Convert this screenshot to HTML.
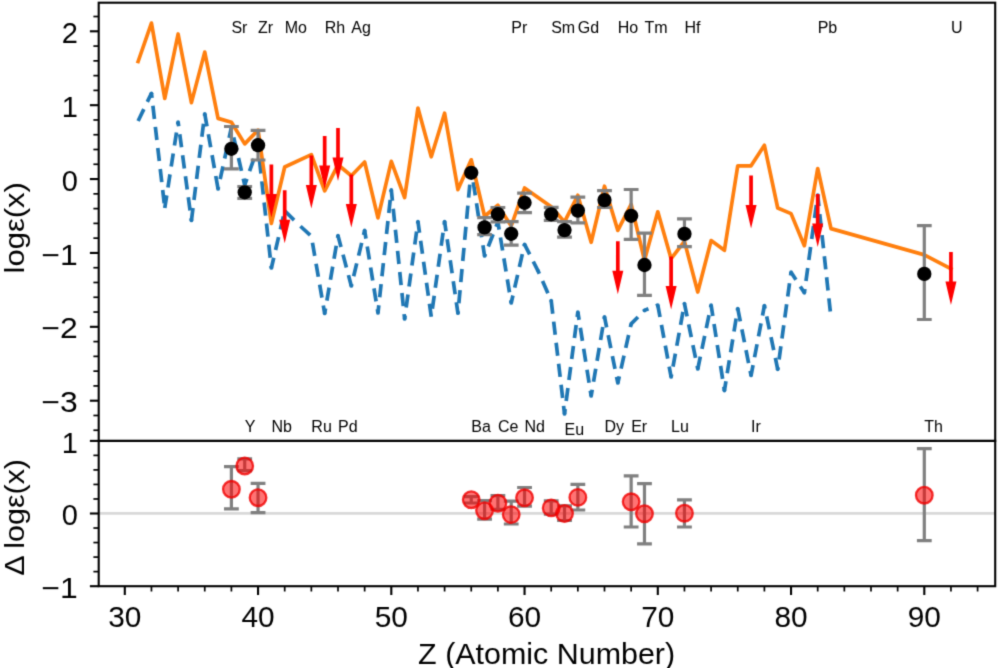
<!DOCTYPE html><html><head><meta charset="utf-8"><title>Abundance pattern</title>
<style>html,body{margin:0;padding:0;background:#fff;}svg{display:block;}text{font-family:"Liberation Sans",sans-serif;fill:#000;}</style></head><body>
<svg width="998" height="668" viewBox="0 0 998 668">
<filter id="bl" x="0" y="0" width="998" height="668" filterUnits="userSpaceOnUse" color-interpolation-filters="sRGB"><feConvolveMatrix order="3" kernelMatrix="0.0225 0.1050 0.0225 0.1050 0.4900 0.1050 0.0225 0.1050 0.0225" edgeMode="duplicate"/></filter>
<g filter="url(#bl)">
<rect width="998" height="668" fill="#fff"/>
<defs><clipPath id="ct"><rect x="98.0" y="2.7" width="897.2" height="438.2"/></clipPath><clipPath id="cb"><rect x="98.0" y="440.9" width="897.2" height="145.30000000000007"/></clipPath></defs>
<g clip-path="url(#ct)">
<g stroke="#1f77b4" stroke-width="3.7" stroke-dasharray="13.2 8.0" fill="none"><line x1="138.12" y1="121" x2="151.45" y2="93.3" stroke-dashoffset="0"/><circle cx="151.45" cy="93.3" r="1.85" fill="#1f77b4" stroke="none"/><line x1="151.45" y1="93.3" x2="164.77" y2="208" stroke-dashoffset="8.6"/><line x1="164.77" y1="208" x2="178.1" y2="122.1" stroke-dashoffset="0.4"/><circle cx="178.1" cy="122.1" r="1.85" fill="#1f77b4" stroke="none"/><line x1="178.1" y1="122.1" x2="191.43" y2="220.4" stroke-dashoffset="8.9"/><circle cx="191.43" cy="220.4" r="1.85" fill="#1f77b4" stroke="none"/><line x1="191.43" y1="220.4" x2="204.75" y2="113.8" stroke-dashoffset="0.6"/><circle cx="204.75" cy="113.8" r="1.85" fill="#1f77b4" stroke="none"/><line x1="204.75" y1="113.8" x2="218.07" y2="189" stroke-dashoffset="0.4"/><circle cx="218.07" cy="189" r="1.85" fill="#1f77b4" stroke="none"/><line x1="218.07" y1="189" x2="231.4" y2="127.3" stroke-dashoffset="11.2"/><circle cx="231.4" cy="127.3" r="1.85" fill="#1f77b4" stroke="none"/><line x1="231.4" y1="127.3" x2="244.72" y2="185" stroke-dashoffset="10.9"/><circle cx="244.72" cy="185" r="1.85" fill="#1f77b4" stroke="none"/><line x1="244.72" y1="185" x2="258.05" y2="147" stroke-dashoffset="6.6"/><circle cx="258.05" cy="147" r="1.85" fill="#1f77b4" stroke="none"/><line x1="258.05" y1="147" x2="271.38" y2="268" stroke-dashoffset="7.8"/><circle cx="271.38" cy="268" r="1.85" fill="#1f77b4" stroke="none"/><line x1="271.38" y1="268" x2="284.7" y2="210.8" stroke-dashoffset="2.7"/><line x1="284.7" y1="210.8" x2="298.02" y2="224" stroke-dashoffset="0"/><line x1="298.02" y1="224" x2="311.35" y2="236.3" stroke-dashoffset="17.9"/><line x1="311.35" y1="236.3" x2="324.68" y2="313.5" stroke-dashoffset="14.6"/><circle cx="324.68" cy="313.5" r="1.85" fill="#1f77b4" stroke="none"/><line x1="324.68" y1="313.5" x2="338" y2="235.6" stroke-dashoffset="8.1"/><circle cx="338" cy="235.6" r="1.85" fill="#1f77b4" stroke="none"/><line x1="338" y1="235.6" x2="351.32" y2="286" stroke-dashoffset="1.5"/><circle cx="351.32" cy="286" r="1.85" fill="#1f77b4" stroke="none"/><line x1="351.32" y1="286" x2="364.65" y2="230.4" stroke-dashoffset="11.2"/><circle cx="364.65" cy="230.4" r="1.85" fill="#1f77b4" stroke="none"/><line x1="364.65" y1="230.4" x2="377.97" y2="313" stroke-dashoffset="4.9"/><circle cx="377.97" cy="313" r="1.85" fill="#1f77b4" stroke="none"/><line x1="377.97" y1="313" x2="391.3" y2="189.9" stroke-dashoffset="5.4"/><circle cx="391.3" cy="189.9" r="1.85" fill="#1f77b4" stroke="none"/><line x1="391.3" y1="189.9" x2="404.62" y2="319" stroke-dashoffset="2.3"/><circle cx="404.62" cy="319" r="1.85" fill="#1f77b4" stroke="none"/><line x1="404.62" y1="319" x2="417.95" y2="221.6" stroke-dashoffset="9.7"/><circle cx="417.95" cy="221.6" r="1.85" fill="#1f77b4" stroke="none"/><line x1="417.95" y1="221.6" x2="431.27" y2="316.7" stroke-dashoffset="1.9"/><line x1="431.27" y1="316.7" x2="444.6" y2="221.6" stroke-dashoffset="13.2"/><circle cx="444.6" cy="221.6" r="1.85" fill="#1f77b4" stroke="none"/><line x1="444.6" y1="221.6" x2="457.93" y2="313.2" stroke-dashoffset="3.4"/><circle cx="457.93" cy="313.2" r="1.85" fill="#1f77b4" stroke="none"/><line x1="457.93" y1="313.2" x2="471.25" y2="169" stroke-dashoffset="11.2"/><circle cx="471.25" cy="169" r="1.85" fill="#1f77b4" stroke="none"/><line x1="471.25" y1="169" x2="484.57" y2="256" stroke-dashoffset="7.7"/><circle cx="484.57" cy="256" r="1.85" fill="#1f77b4" stroke="none"/><line x1="484.57" y1="256" x2="497.9" y2="221.9" stroke-dashoffset="11"/><circle cx="497.9" cy="221.9" r="1.85" fill="#1f77b4" stroke="none"/><line x1="497.9" y1="221.9" x2="511.22" y2="303" stroke-dashoffset="5.4"/><circle cx="511.22" cy="303" r="1.85" fill="#1f77b4" stroke="none"/><line x1="511.22" y1="303" x2="524.55" y2="244.3" stroke-dashoffset="5.5"/><circle cx="524.55" cy="244.3" r="1.85" fill="#1f77b4" stroke="none"/><line x1="524.55" y1="244.3" x2="537.88" y2="270.6" stroke-dashoffset="1.9"/><circle cx="537.88" cy="270.6" r="1.85" fill="#1f77b4" stroke="none"/><line x1="537.88" y1="270.6" x2="551.2" y2="300.6" stroke-dashoffset="9.7"/><circle cx="551.2" cy="300.6" r="1.85" fill="#1f77b4" stroke="none"/><line x1="551.2" y1="300.6" x2="564.52" y2="414" stroke-dashoffset="0"/><circle cx="564.52" cy="414" r="1.85" fill="#1f77b4" stroke="none"/><line x1="564.52" y1="414" x2="577.85" y2="312" stroke-dashoffset="8.2"/><circle cx="577.85" cy="312" r="1.85" fill="#1f77b4" stroke="none"/><line x1="577.85" y1="312" x2="591.17" y2="395.9" stroke-dashoffset="5.2"/><circle cx="591.17" cy="395.9" r="1.85" fill="#1f77b4" stroke="none"/><line x1="591.17" y1="395.9" x2="604.5" y2="316.8" stroke-dashoffset="6.9"/><circle cx="604.5" cy="316.8" r="1.85" fill="#1f77b4" stroke="none"/><line x1="604.5" y1="316.8" x2="617.82" y2="383" stroke-dashoffset="2.4"/><circle cx="617.82" cy="383" r="1.85" fill="#1f77b4" stroke="none"/><line x1="617.82" y1="383" x2="631.15" y2="323.9" stroke-dashoffset="6.4"/><circle cx="631.15" cy="323.9" r="1.85" fill="#1f77b4" stroke="none"/><line x1="631.15" y1="323.9" x2="644.47" y2="310.4" stroke-dashoffset="3.5"/><circle cx="644.47" cy="310.4" r="1.85" fill="#1f77b4" stroke="none"/><line x1="644.47" y1="310.4" x2="657.8" y2="305.1" stroke-dashoffset="8.9"/><circle cx="657.8" cy="305.1" r="1.85" fill="#1f77b4" stroke="none"/><line x1="657.8" y1="305.1" x2="671.12" y2="377" stroke-dashoffset="1.1"/><circle cx="671.12" cy="377" r="1.85" fill="#1f77b4" stroke="none"/><line x1="671.12" y1="377" x2="684.45" y2="303.6" stroke-dashoffset="10.6"/><circle cx="684.45" cy="303.6" r="1.85" fill="#1f77b4" stroke="none"/><line x1="684.45" y1="303.6" x2="697.77" y2="369" stroke-dashoffset="0.1"/><circle cx="697.77" cy="369" r="1.85" fill="#1f77b4" stroke="none"/><line x1="697.77" y1="369" x2="711.1" y2="305.1" stroke-dashoffset="0.6"/><circle cx="711.1" cy="305.1" r="1.85" fill="#1f77b4" stroke="none"/><line x1="711.1" y1="305.1" x2="724.42" y2="390.6" stroke-dashoffset="2.1"/><circle cx="724.42" cy="390.6" r="1.85" fill="#1f77b4" stroke="none"/><line x1="724.42" y1="390.6" x2="737.75" y2="308.5" stroke-dashoffset="3.7"/><circle cx="737.75" cy="308.5" r="1.85" fill="#1f77b4" stroke="none"/><line x1="737.75" y1="308.5" x2="751.07" y2="375.5" stroke-dashoffset="0"/><circle cx="751.07" cy="375.5" r="1.85" fill="#1f77b4" stroke="none"/><line x1="751.07" y1="375.5" x2="764.4" y2="305.6" stroke-dashoffset="2.6"/><circle cx="764.4" cy="305.6" r="1.85" fill="#1f77b4" stroke="none"/><line x1="764.4" y1="305.6" x2="777.72" y2="369.3" stroke-dashoffset="10.1"/><circle cx="777.72" cy="369.3" r="1.85" fill="#1f77b4" stroke="none"/><line x1="777.72" y1="369.3" x2="791.05" y2="272.2" stroke-dashoffset="11.2"/><circle cx="791.05" cy="272.2" r="1.85" fill="#1f77b4" stroke="none"/><line x1="791.05" y1="272.2" x2="804.37" y2="292.8" stroke-dashoffset="4.2"/><circle cx="804.37" cy="292.8" r="1.85" fill="#1f77b4" stroke="none"/><line x1="804.37" y1="292.8" x2="817.7" y2="195" stroke-dashoffset="9.3"/><circle cx="817.7" cy="195" r="1.85" fill="#1f77b4" stroke="none"/><line x1="817.7" y1="195" x2="831.02" y2="318" stroke-dashoffset="2"/></g>
<polyline points="138.12,61.5 151.45,23.1 164.77,98.4 178.1,34 191.43,102.6 204.75,52.1 218.07,118.4 231.4,122.3 244.72,143.9 258.05,130.1 271.38,223.4 284.7,167 311.35,154.6 324.68,190.8 338,164.8 351.32,175.8 364.65,162 377.97,217.9 391.3,161.4 404.62,197.5 417.95,108 431.27,156.8 444.6,113.2 457.93,189.6 471.25,159.8 484.57,216.2 497.9,205.3 511.22,226 524.55,188 551.2,206.8 564.52,221.9 577.85,195.3 591.17,242.3 604.5,186.2 617.82,230.4 631.15,204.3 644.47,260.2 657.8,211.8 671.12,258.7 684.45,241.4 697.77,292 711.1,240.6 724.42,250.3 737.75,165.8 751.07,165.8 764.4,145.3 777.72,208 791.05,213.6 804.37,245.7 817.7,168.5 831.02,228.6 924.3,254.9 950.95,268.8" fill="none" stroke="#ff7f0e" stroke-width="3.7" stroke-linejoin="round" stroke-linecap="square"/>
<path d="M231.4 126.5V168.8M224 126.5H238.8M224 168.8H238.8" stroke="#808080" stroke-width="3.2" fill="none"/>
<path d="M244.72 186.7V198.4M237.32 186.7H252.12M237.32 198.4H252.12" stroke="#808080" stroke-width="3.2" fill="none"/>
<path d="M258.05 130.3V160M250.65 130.3H265.45M250.65 160H265.45" stroke="#808080" stroke-width="3.2" fill="none"/>
<path d="M484.57 217.7V234.7M477.18 217.7H491.97M477.18 234.7H491.97" stroke="#808080" stroke-width="3.2" fill="none"/>
<path d="M497.9 207.5V221.8M490.5 207.5H505.3M490.5 221.8H505.3" stroke="#808080" stroke-width="3.2" fill="none"/>
<path d="M511.22 221.6V245.1M503.82 221.6H518.62M503.82 245.1H518.62" stroke="#808080" stroke-width="3.2" fill="none"/>
<path d="M524.55 193.2V212.6M517.15 193.2H531.95M517.15 212.6H531.95" stroke="#808080" stroke-width="3.2" fill="none"/>
<path d="M551.2 207.3V220.4M543.8 207.3H558.6M543.8 220.4H558.6" stroke="#808080" stroke-width="3.2" fill="none"/>
<path d="M564.52 221.6V237.2M557.12 221.6H571.92M557.12 237.2H571.92" stroke="#808080" stroke-width="3.2" fill="none"/>
<path d="M577.85 197.1V222.9M570.45 197.1H585.25M570.45 222.9H585.25" stroke="#808080" stroke-width="3.2" fill="none"/>
<path d="M604.5 190.6V207.5M597.1 190.6H611.9M597.1 207.5H611.9" stroke="#808080" stroke-width="3.2" fill="none"/>
<path d="M631.15 189.5V239.4M623.75 189.5H638.55M623.75 239.4H638.55" stroke="#808080" stroke-width="3.2" fill="none"/>
<path d="M644.47 233.1V295.3M637.07 233.1H651.87M637.07 295.3H651.87" stroke="#808080" stroke-width="3.2" fill="none"/>
<path d="M684.45 218.9V246.7M677.05 218.9H691.85M677.05 246.7H691.85" stroke="#808080" stroke-width="3.2" fill="none"/>
<path d="M924.3 225.7V319.5M916.9 225.7H931.7M916.9 319.5H931.7" stroke="#808080" stroke-width="3.2" fill="none"/>
<circle cx="471.25" cy="172.8" r="7.15" fill="#000"/>
<circle cx="231.4" cy="148.8" r="7.15" fill="#000"/>
<circle cx="244.72" cy="192.3" r="7.15" fill="#000"/>
<circle cx="258.05" cy="145.2" r="7.15" fill="#000"/>
<circle cx="484.57" cy="227.4" r="7.15" fill="#000"/>
<circle cx="497.9" cy="214.2" r="7.15" fill="#000"/>
<circle cx="511.22" cy="233.8" r="7.15" fill="#000"/>
<circle cx="524.55" cy="202.8" r="7.15" fill="#000"/>
<circle cx="551.2" cy="214.3" r="7.15" fill="#000"/>
<circle cx="564.52" cy="230.1" r="7.15" fill="#000"/>
<circle cx="577.85" cy="210.6" r="7.15" fill="#000"/>
<circle cx="604.5" cy="200.1" r="7.15" fill="#000"/>
<circle cx="631.15" cy="215.8" r="7.15" fill="#000"/>
<circle cx="644.47" cy="265" r="7.15" fill="#000"/>
<circle cx="684.45" cy="233.9" r="7.15" fill="#000"/>
<circle cx="924.3" cy="273.9" r="7.15" fill="#000"/>
<path d="M269.52 164.6H273.23V194.1H276.88L271.38 217.6L265.88 194.1H269.52Z" fill="#ff0000"/>
<path d="M282.85 190.2H286.55V219.7H290.2L284.7 243.2L279.2 219.7H282.85Z" fill="#ff0000"/>
<path d="M309.5 155.4H313.2V184.9H316.85L311.35 208.4L305.85 184.9H309.5Z" fill="#ff0000"/>
<path d="M322.82 136.1H326.53V165.6H330.18L324.68 189.1L319.18 165.6H322.82Z" fill="#ff0000"/>
<path d="M336.15 128H339.85V157.5H343.5L338 181L332.5 157.5H336.15Z" fill="#ff0000"/>
<path d="M349.47 174.6H353.18V204.1H356.82L351.32 227.6L345.82 204.1H349.47Z" fill="#ff0000"/>
<path d="M615.97 241.3H619.67V270.8H623.32L617.82 294.3L612.32 270.8H615.97Z" fill="#ff0000"/>
<path d="M669.27 256.4H672.97V285.9H676.62L671.12 309.4L665.62 285.9H669.27Z" fill="#ff0000"/>
<path d="M749.22 175.6H752.92V205.1H756.57L751.07 228.6L745.57 205.1H749.22Z" fill="#ff0000"/>
<path d="M815.85 194H819.55V223.5H823.2L817.7 247L812.2 223.5H815.85Z" fill="#ff0000"/>
<path d="M949.1 251.9H952.8V281.4H956.45L950.95 304.9L945.45 281.4H949.1Z" fill="#ff0000"/>
</g>
<text x="231.4" y="33.0" font-size="16">Sr</text>
<text x="258.05" y="33.0" font-size="16">Zr</text>
<text x="284.7" y="33.0" font-size="16">Mo</text>
<text x="324.68" y="33.0" font-size="16">Rh</text>
<text x="351.32" y="33.0" font-size="16">Ag</text>
<text x="511.22" y="33.0" font-size="16">Pr</text>
<text x="551.2" y="33.0" font-size="16">Sm</text>
<text x="577.85" y="33.0" font-size="16">Gd</text>
<text x="617.82" y="33.0" font-size="16">Ho</text>
<text x="644.47" y="33.0" font-size="16">Tm</text>
<text x="684.45" y="33.0" font-size="16">Hf</text>
<text x="817.7" y="33.0" font-size="16">Pb</text>
<text x="950.95" y="33.0" font-size="16">U</text>
<text x="244.72" y="432.1" font-size="16">Y</text>
<text x="271.38" y="432.1" font-size="16">Nb</text>
<text x="311.35" y="432.1" font-size="16">Ru</text>
<text x="338" y="432.1" font-size="16">Pd</text>
<text x="471.25" y="432.1" font-size="16">Ba</text>
<text x="497.9" y="432.1" font-size="16">Ce</text>
<text x="524.55" y="432.1" font-size="16">Nd</text>
<text x="564.52" y="435.0" font-size="16">Eu</text>
<text x="604.5" y="432.1" font-size="16">Dy</text>
<text x="631.15" y="432.1" font-size="16">Er</text>
<text x="671.12" y="432.1" font-size="16">Lu</text>
<text x="751.07" y="432.1" font-size="16">Ir</text>
<text x="924.3" y="432.1" font-size="16">Th</text>
<g clip-path="url(#cb)">
<line x1="98.70357453000375" y1="513.4" x2="995.2" y2="513.4" stroke="#d9d9d9" stroke-width="2.8"/>
<path d="M231.4 466.6V508.8M224 466.6H238.8M224 508.8H238.8" stroke="#808080" stroke-width="3.2" fill="none"/>
<path d="M244.72 458.8V470.7M237.32 458.8H252.12M237.32 470.7H252.12" stroke="#808080" stroke-width="3.2" fill="none"/>
<path d="M258.05 483.3V512.7M250.65 483.3H265.45M250.65 512.7H265.45" stroke="#808080" stroke-width="3.2" fill="none"/>
<path d="M471.25 496.7V503M463.85 496.7H478.65M463.85 503H478.65" stroke="#808080" stroke-width="3.2" fill="none"/>
<path d="M484.57 500.6V519.1M477.18 500.6H491.97M477.18 519.1H491.97" stroke="#808080" stroke-width="3.2" fill="none"/>
<path d="M497.9 495.7V509.3M490.5 495.7H505.3M490.5 509.3H505.3" stroke="#808080" stroke-width="3.2" fill="none"/>
<path d="M511.22 501.1V524M503.82 501.1H518.62M503.82 524H518.62" stroke="#808080" stroke-width="3.2" fill="none"/>
<path d="M524.55 487.5V506.2M517.15 487.5H531.95M517.15 506.2H531.95" stroke="#808080" stroke-width="3.2" fill="none"/>
<path d="M551.2 500.9V514.2M543.8 500.9H558.6M543.8 514.2H558.6" stroke="#808080" stroke-width="3.2" fill="none"/>
<path d="M564.52 505.8V520.5M557.12 505.8H571.92M557.12 520.5H571.92" stroke="#808080" stroke-width="3.2" fill="none"/>
<path d="M577.85 484.4V510M570.45 484.4H585.25M570.45 510H585.25" stroke="#808080" stroke-width="3.2" fill="none"/>
<path d="M631.15 475.9V527M623.75 475.9H638.55M623.75 527H638.55" stroke="#808080" stroke-width="3.2" fill="none"/>
<path d="M644.47 483.6V543.8M637.07 483.6H651.87M637.07 543.8H651.87" stroke="#808080" stroke-width="3.2" fill="none"/>
<path d="M684.45 499.8V527M677.05 499.8H691.85M677.05 527H691.85" stroke="#808080" stroke-width="3.2" fill="none"/>
<path d="M924.3 448.6V540.7M916.9 448.6H931.7M916.9 540.7H931.7" stroke="#808080" stroke-width="3.2" fill="none"/>
<circle cx="231.4" cy="489.3" r="8.3" fill="#ff0000" fill-opacity="0.55" stroke="#f00000" stroke-opacity="0.8" stroke-width="2.3"/>
<circle cx="244.72" cy="466" r="8.3" fill="#ff0000" fill-opacity="0.55" stroke="#f00000" stroke-opacity="0.8" stroke-width="2.3"/>
<circle cx="258.05" cy="497.7" r="8.3" fill="#ff0000" fill-opacity="0.55" stroke="#f00000" stroke-opacity="0.8" stroke-width="2.3"/>
<circle cx="471.25" cy="499.7" r="8.3" fill="#ff0000" fill-opacity="0.55" stroke="#f00000" stroke-opacity="0.8" stroke-width="2.3"/>
<circle cx="484.57" cy="510.7" r="8.3" fill="#ff0000" fill-opacity="0.55" stroke="#f00000" stroke-opacity="0.8" stroke-width="2.3"/>
<circle cx="497.9" cy="503.2" r="8.3" fill="#ff0000" fill-opacity="0.55" stroke="#f00000" stroke-opacity="0.8" stroke-width="2.3"/>
<circle cx="511.22" cy="514.6" r="8.3" fill="#ff0000" fill-opacity="0.55" stroke="#f00000" stroke-opacity="0.8" stroke-width="2.3"/>
<circle cx="524.55" cy="497.8" r="8.3" fill="#ff0000" fill-opacity="0.55" stroke="#f00000" stroke-opacity="0.8" stroke-width="2.3"/>
<circle cx="551.2" cy="507.9" r="8.3" fill="#ff0000" fill-opacity="0.55" stroke="#f00000" stroke-opacity="0.8" stroke-width="2.3"/>
<circle cx="564.52" cy="513.5" r="8.3" fill="#ff0000" fill-opacity="0.55" stroke="#f00000" stroke-opacity="0.8" stroke-width="2.3"/>
<circle cx="577.85" cy="497.4" r="8.3" fill="#ff0000" fill-opacity="0.55" stroke="#f00000" stroke-opacity="0.8" stroke-width="2.3"/>
<circle cx="631.15" cy="501.8" r="8.3" fill="#ff0000" fill-opacity="0.55" stroke="#f00000" stroke-opacity="0.8" stroke-width="2.3"/>
<circle cx="644.47" cy="513.7" r="8.3" fill="#ff0000" fill-opacity="0.55" stroke="#f00000" stroke-opacity="0.8" stroke-width="2.3"/>
<circle cx="684.45" cy="513.2" r="8.3" fill="#ff0000" fill-opacity="0.55" stroke="#f00000" stroke-opacity="0.8" stroke-width="2.3"/>
<circle cx="924.3" cy="495.2" r="8.3" fill="#ff0000" fill-opacity="0.55" stroke="#f00000" stroke-opacity="0.8" stroke-width="2.3"/>
</g>
<rect x="98.70357453000375" y="2.7" width="896.5" height="438.2" fill="none" stroke="#000" stroke-width="2.1"/>
<rect x="98.70357453000375" y="440.9" width="896.5" height="145.3" fill="none" stroke="#000" stroke-width="2.1"/>
<line x1="93.4" y1="430.25" x2="98.70357453000375" y2="430.25" stroke="#000" stroke-width="1.7"/><line x1="93.4" y1="415.48" x2="98.70357453000375" y2="415.48" stroke="#000" stroke-width="1.7"/><line x1="89.9" y1="400.7" x2="98.70357453000375" y2="400.7" stroke="#000" stroke-width="2.1"/><line x1="93.4" y1="385.92" x2="98.70357453000375" y2="385.92" stroke="#000" stroke-width="1.7"/><line x1="93.4" y1="371.15" x2="98.70357453000375" y2="371.15" stroke="#000" stroke-width="1.7"/><line x1="93.4" y1="356.37" x2="98.70357453000375" y2="356.37" stroke="#000" stroke-width="1.7"/><line x1="93.4" y1="341.6" x2="98.70357453000375" y2="341.6" stroke="#000" stroke-width="1.7"/><line x1="89.9" y1="326.82" x2="98.70357453000375" y2="326.82" stroke="#000" stroke-width="2.1"/><line x1="93.4" y1="312.04" x2="98.70357453000375" y2="312.04" stroke="#000" stroke-width="1.7"/><line x1="93.4" y1="297.27" x2="98.70357453000375" y2="297.27" stroke="#000" stroke-width="1.7"/><line x1="93.4" y1="282.49" x2="98.70357453000375" y2="282.49" stroke="#000" stroke-width="1.7"/><line x1="93.4" y1="267.72" x2="98.70357453000375" y2="267.72" stroke="#000" stroke-width="1.7"/><line x1="89.9" y1="252.94" x2="98.70357453000375" y2="252.94" stroke="#000" stroke-width="2.1"/><line x1="93.4" y1="238.16" x2="98.70357453000375" y2="238.16" stroke="#000" stroke-width="1.7"/><line x1="93.4" y1="223.39" x2="98.70357453000375" y2="223.39" stroke="#000" stroke-width="1.7"/><line x1="93.4" y1="208.61" x2="98.70357453000375" y2="208.61" stroke="#000" stroke-width="1.7"/><line x1="93.4" y1="193.84" x2="98.70357453000375" y2="193.84" stroke="#000" stroke-width="1.7"/><line x1="89.9" y1="179.06" x2="98.70357453000375" y2="179.06" stroke="#000" stroke-width="2.1"/><line x1="93.4" y1="164.28" x2="98.70357453000375" y2="164.28" stroke="#000" stroke-width="1.7"/><line x1="93.4" y1="149.51" x2="98.70357453000375" y2="149.51" stroke="#000" stroke-width="1.7"/><line x1="93.4" y1="134.73" x2="98.70357453000375" y2="134.73" stroke="#000" stroke-width="1.7"/><line x1="93.4" y1="119.96" x2="98.70357453000375" y2="119.96" stroke="#000" stroke-width="1.7"/><line x1="89.9" y1="105.18" x2="98.70357453000375" y2="105.18" stroke="#000" stroke-width="2.1"/><line x1="93.4" y1="90.4" x2="98.70357453000375" y2="90.4" stroke="#000" stroke-width="1.7"/><line x1="93.4" y1="75.63" x2="98.70357453000375" y2="75.63" stroke="#000" stroke-width="1.7"/><line x1="93.4" y1="60.85" x2="98.70357453000375" y2="60.85" stroke="#000" stroke-width="1.7"/><line x1="93.4" y1="46.08" x2="98.70357453000375" y2="46.08" stroke="#000" stroke-width="1.7"/><line x1="89.9" y1="31.3" x2="98.70357453000375" y2="31.3" stroke="#000" stroke-width="2.1"/><line x1="93.4" y1="16.52" x2="98.70357453000375" y2="16.52" stroke="#000" stroke-width="1.7"/><line x1="89.9" y1="586.2" x2="98.70357453000375" y2="586.2" stroke="#000" stroke-width="2.1"/><line x1="93.4" y1="571.62" x2="98.70357453000375" y2="571.62" stroke="#000" stroke-width="1.7"/><line x1="93.4" y1="557.09" x2="98.70357453000375" y2="557.09" stroke="#000" stroke-width="1.7"/><line x1="93.4" y1="542.56" x2="98.70357453000375" y2="542.56" stroke="#000" stroke-width="1.7"/><line x1="93.4" y1="528.03" x2="98.70357453000375" y2="528.03" stroke="#000" stroke-width="1.7"/><line x1="89.9" y1="513.5" x2="98.70357453000375" y2="513.5" stroke="#000" stroke-width="2.1"/><line x1="93.4" y1="498.97" x2="98.70357453000375" y2="498.97" stroke="#000" stroke-width="1.7"/><line x1="93.4" y1="484.44" x2="98.70357453000375" y2="484.44" stroke="#000" stroke-width="1.7"/><line x1="93.4" y1="469.91" x2="98.70357453000375" y2="469.91" stroke="#000" stroke-width="1.7"/><line x1="93.4" y1="455.38" x2="98.70357453000375" y2="455.38" stroke="#000" stroke-width="1.7"/><line x1="89.9" y1="440.9" x2="98.70357453000375" y2="440.9" stroke="#000" stroke-width="2.1"/><line x1="124.8" y1="586.2" x2="124.8" y2="595" stroke="#000" stroke-width="2.1"/><line x1="151.45" y1="586.2" x2="151.45" y2="591.5" stroke="#000" stroke-width="1.7"/><line x1="178.1" y1="586.2" x2="178.1" y2="591.5" stroke="#000" stroke-width="1.7"/><line x1="204.75" y1="586.2" x2="204.75" y2="591.5" stroke="#000" stroke-width="1.7"/><line x1="231.4" y1="586.2" x2="231.4" y2="591.5" stroke="#000" stroke-width="1.7"/><line x1="258.05" y1="586.2" x2="258.05" y2="595" stroke="#000" stroke-width="2.1"/><line x1="284.7" y1="586.2" x2="284.7" y2="591.5" stroke="#000" stroke-width="1.7"/><line x1="311.35" y1="586.2" x2="311.35" y2="591.5" stroke="#000" stroke-width="1.7"/><line x1="338" y1="586.2" x2="338" y2="591.5" stroke="#000" stroke-width="1.7"/><line x1="364.65" y1="586.2" x2="364.65" y2="591.5" stroke="#000" stroke-width="1.7"/><line x1="391.3" y1="586.2" x2="391.3" y2="595" stroke="#000" stroke-width="2.1"/><line x1="417.95" y1="586.2" x2="417.95" y2="591.5" stroke="#000" stroke-width="1.7"/><line x1="444.6" y1="586.2" x2="444.6" y2="591.5" stroke="#000" stroke-width="1.7"/><line x1="471.25" y1="586.2" x2="471.25" y2="591.5" stroke="#000" stroke-width="1.7"/><line x1="497.9" y1="586.2" x2="497.9" y2="591.5" stroke="#000" stroke-width="1.7"/><line x1="524.55" y1="586.2" x2="524.55" y2="595" stroke="#000" stroke-width="2.1"/><line x1="551.2" y1="586.2" x2="551.2" y2="591.5" stroke="#000" stroke-width="1.7"/><line x1="577.85" y1="586.2" x2="577.85" y2="591.5" stroke="#000" stroke-width="1.7"/><line x1="604.5" y1="586.2" x2="604.5" y2="591.5" stroke="#000" stroke-width="1.7"/><line x1="631.15" y1="586.2" x2="631.15" y2="591.5" stroke="#000" stroke-width="1.7"/><line x1="657.8" y1="586.2" x2="657.8" y2="595" stroke="#000" stroke-width="2.1"/><line x1="684.45" y1="586.2" x2="684.45" y2="591.5" stroke="#000" stroke-width="1.7"/><line x1="711.1" y1="586.2" x2="711.1" y2="591.5" stroke="#000" stroke-width="1.7"/><line x1="737.75" y1="586.2" x2="737.75" y2="591.5" stroke="#000" stroke-width="1.7"/><line x1="764.4" y1="586.2" x2="764.4" y2="591.5" stroke="#000" stroke-width="1.7"/><line x1="791.05" y1="586.2" x2="791.05" y2="595" stroke="#000" stroke-width="2.1"/><line x1="817.7" y1="586.2" x2="817.7" y2="591.5" stroke="#000" stroke-width="1.7"/><line x1="844.35" y1="586.2" x2="844.35" y2="591.5" stroke="#000" stroke-width="1.7"/><line x1="871" y1="586.2" x2="871" y2="591.5" stroke="#000" stroke-width="1.7"/><line x1="897.65" y1="586.2" x2="897.65" y2="591.5" stroke="#000" stroke-width="1.7"/><line x1="924.3" y1="586.2" x2="924.3" y2="595" stroke="#000" stroke-width="2.1"/><line x1="950.95" y1="586.2" x2="950.95" y2="591.5" stroke="#000" stroke-width="1.7"/><line x1="977.6" y1="586.2" x2="977.6" y2="591.5" stroke="#000" stroke-width="1.7"/>
<text x="77.8" y="42.9" font-size="29" text-anchor="end">2</text>
<text x="77.8" y="116.78" font-size="29" text-anchor="end">1</text>
<text x="77.8" y="190.66" font-size="29" text-anchor="end">0</text>
<text transform="translate(77.8 264.54) scale(1.1 1)" font-size="29" text-anchor="end">−1</text>
<text transform="translate(77.8 338.42) scale(1.1 1)" font-size="29" text-anchor="end">−2</text>
<text transform="translate(77.8 412.3) scale(1.1 1)" font-size="29" text-anchor="end">−3</text>
<text x="77.8" y="452.5" font-size="29" text-anchor="end">1</text>
<text x="77.8" y="525.1" font-size="29" text-anchor="end">0</text>
<text transform="translate(77.8 597.8) scale(1.1 1)" font-size="29" text-anchor="end">−1</text>
<text transform="translate(124.8 627.0) scale(1.03 1)" font-size="29" text-anchor="middle">30</text>
<text transform="translate(258.05 627.0) scale(1.03 1)" font-size="29" text-anchor="middle">40</text>
<text transform="translate(391.3 627.0) scale(1.03 1)" font-size="29" text-anchor="middle">50</text>
<text transform="translate(524.55 627.0) scale(1.03 1)" font-size="29" text-anchor="middle">60</text>
<text transform="translate(657.8 627.0) scale(1.03 1)" font-size="29" text-anchor="middle">70</text>
<text transform="translate(791.05 627.0) scale(1.03 1)" font-size="29" text-anchor="middle">80</text>
<text transform="translate(924.3 627.0) scale(1.03 1)" font-size="29" text-anchor="middle">90</text>
<text transform="translate(546.6 663.6) scale(1.05 1)" font-size="29" text-anchor="middle">Z (Atomic Number)</text>
<text transform="translate(23.9 227.8) rotate(-90) scale(1.128 1)" font-size="27.5" text-anchor="middle">logε(x)</text>
<text transform="translate(23.9 517.4) rotate(-90) scale(1.107 1)" font-size="27.5" text-anchor="middle">Δ logε(x)</text>
</g></svg></body></html>
